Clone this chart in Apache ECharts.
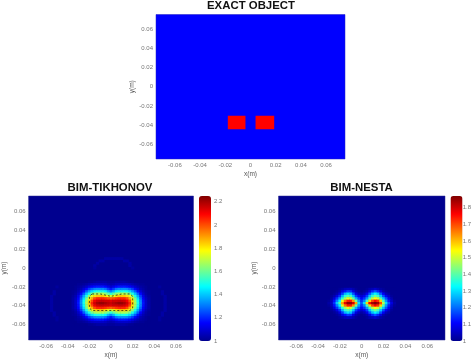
<!DOCTYPE html>
<html><head><meta charset="utf-8">
<style>html,body{margin:0;padding:0;background:#fff}#c{width:474px;height:360px;filter:blur(0.5px)}</style>
<script src="https://cdn.jsdelivr.net/npm/echarts@6/dist/echarts.min.js"></script>
</head><body><div id="c"></div>
<script>
const tickLabels = [-0.06,-0.04,-0.02,0,0.02,0.04,0.06];
const titles = ['EXACT OBJECT','BIM-TIKHONOV','BIM-NESTA'];
const jet = ['#00008f','#0000ff','#0080ff','#00ffff','#80ff80','#ffff00','#ff8000','#ff0000','#800000'];

// exact object: scatterer rectangles [x0,x1,y0,y1] in metres
const objectRects = [[-0.018,-0.004,-0.044,-0.03],[0.004,0.0188,-0.044,-0.03]];

// BIM-TIKHONOV: x -0.035..0.035, y -0.015..-0.06 in 0.0025 steps
const tikhX0 = -0.035, tikhY0 = -0.015;
const tikhRows = [
[1,1,1,1,1,1,1.01,1.01,1.02,1.03,1.03,1.03,1.03,1.02,1.02,1.02,1.03,1.03,1.03,1.03,1.02,1.01,1.01,1,1,1,1,1,1],
[1,1,1.01,1.01,1.02,1.03,1.05,1.07,1.08,1.08,1.08,1.08,1.07,1.05,1.04,1.05,1.07,1.08,1.08,1.08,1.08,1.07,1.05,1.03,1.02,1.01,1.01,1,1],
[1,1.01,1.02,1.03,1.05,1.08,1.12,1.15,1.17,1.18,1.18,1.18,1.16,1.12,1.09,1.12,1.16,1.18,1.18,1.18,1.17,1.15,1.12,1.08,1.05,1.03,1.02,1.01,1],
[1,1.01,1.03,1.05,1.1,1.16,1.23,1.28,1.32,1.33,1.33,1.33,1.3,1.23,1.18,1.23,1.3,1.33,1.33,1.33,1.32,1.28,1.23,1.16,1.1,1.05,1.03,1.01,1],
[1.01,1.02,1.05,1.1,1.17,1.27,1.36,1.43,1.48,1.5,1.5,1.5,1.46,1.38,1.32,1.38,1.46,1.5,1.5,1.5,1.48,1.43,1.36,1.27,1.17,1.1,1.05,1.02,1.01],
[1.01,1.03,1.08,1.16,1.27,1.39,1.5,1.6,1.66,1.68,1.68,1.68,1.64,1.58,1.52,1.58,1.64,1.68,1.68,1.68,1.66,1.6,1.5,1.39,1.27,1.16,1.08,1.03,1.01],
[1.02,1.05,1.12,1.23,1.36,1.5,1.64,1.75,1.82,1.85,1.85,1.85,1.82,1.76,1.72,1.76,1.82,1.85,1.85,1.85,1.82,1.75,1.64,1.5,1.36,1.23,1.12,1.05,1.02],
[1.03,1.07,1.15,1.28,1.43,1.6,1.75,1.88,2,2.05,2.05,2.05,2.03,2,1.98,2,2.03,2.05,2.05,2.05,2,1.88,1.75,1.6,1.43,1.28,1.15,1.07,1.03],
[1.03,1.08,1.17,1.32,1.48,1.66,1.82,2,2.11,2.15,2.16,2.16,2.15,2.15,2.13,2.15,2.15,2.16,2.16,2.15,2.11,2,1.82,1.66,1.48,1.32,1.17,1.08,1.03],
[1.03,1.08,1.18,1.33,1.5,1.68,1.85,2.05,2.15,2.2,2.22,2.22,2.2,2.18,2.16,2.18,2.2,2.22,2.22,2.2,2.15,2.05,1.85,1.68,1.5,1.33,1.18,1.08,1.03],
[1.03,1.08,1.17,1.32,1.48,1.66,1.82,2,2.11,2.15,2.16,2.16,2.15,2.15,2.13,2.15,2.15,2.16,2.16,2.15,2.11,2,1.82,1.66,1.48,1.32,1.17,1.08,1.03],
[1.03,1.07,1.15,1.28,1.43,1.6,1.75,1.88,2,2.05,2.05,2.05,2.03,2,1.98,2,2.03,2.05,2.05,2.05,2,1.88,1.75,1.6,1.43,1.28,1.15,1.07,1.03],
[1.02,1.05,1.12,1.23,1.36,1.5,1.64,1.75,1.82,1.85,1.85,1.85,1.82,1.76,1.72,1.76,1.82,1.85,1.85,1.85,1.82,1.75,1.64,1.5,1.36,1.23,1.12,1.05,1.02],
[1.01,1.03,1.08,1.16,1.27,1.39,1.5,1.6,1.66,1.68,1.68,1.68,1.64,1.58,1.52,1.58,1.64,1.68,1.68,1.68,1.66,1.6,1.5,1.39,1.27,1.16,1.08,1.03,1.01],
[1.01,1.02,1.05,1.1,1.17,1.27,1.36,1.43,1.48,1.5,1.5,1.5,1.46,1.38,1.32,1.38,1.46,1.5,1.5,1.5,1.48,1.43,1.36,1.27,1.17,1.1,1.05,1.02,1.01],
[1,1.01,1.03,1.05,1.1,1.16,1.23,1.28,1.32,1.33,1.33,1.33,1.3,1.23,1.18,1.23,1.3,1.33,1.33,1.33,1.32,1.28,1.23,1.16,1.1,1.05,1.03,1.01,1],
[1,1.01,1.02,1.03,1.05,1.08,1.12,1.15,1.17,1.18,1.18,1.18,1.16,1.12,1.09,1.12,1.16,1.18,1.18,1.18,1.17,1.15,1.12,1.08,1.05,1.03,1.02,1.01,1],
[1,1,1.01,1.01,1.02,1.03,1.05,1.07,1.08,1.08,1.08,1.08,1.07,1.05,1.04,1.05,1.07,1.08,1.08,1.08,1.08,1.07,1.05,1.03,1.02,1.01,1.01,1,1],
[1,1,1,1,1,1,1.01,1.01,1.02,1.03,1.03,1.03,1.03,1.02,1.02,1.02,1.03,1.03,1.03,1.03,1.02,1.01,1.01,1,1,1,1,1,1]
];
// faint side lobes on the Tikhonov map, [x, y, value]
const tikhFaint = [
[-0.005,0.01,1.03],[-0.0025,0.01,1.03],[0,0.01,1.03],[0.0025,0.01,1.03],[0.005,0.01,1.03],[0.0075,0.01,1.03],[0.01,0.01,1.03],
[-0.01,0.0075,1.03],[-0.0075,0.0075,1.03],[0.0125,0.0075,1.03],[0.015,0.0075,1.03],
[-0.0125,0.005,1.03],[0.0175,0.005,1.03],[-0.015,0.0025,1.03],[0.0175,0.0025,1.03],[-0.015,0,1.02],[0.02,0,1.02],
[-0.05,-0.02,1.02],[-0.0525,-0.025,1.03],[-0.0525,-0.0275,1.03],[-0.055,-0.03,1.03],[-0.055,-0.0325,1.03],[-0.055,-0.035,1.03],[-0.055,-0.0375,1.03],[-0.055,-0.04,1.03],[-0.055,-0.0425,1.03],[-0.055,-0.045,1.03],[-0.0525,-0.0475,1.03],[-0.0525,-0.05,1.03],[-0.05,-0.0525,1.02],[-0.05,-0.055,1.02],
[0.045,-0.02,1.02],[0.0475,-0.025,1.03],[0.0475,-0.0275,1.03],[0.05,-0.03,1.03],[0.05,-0.0325,1.03],[0.05,-0.035,1.03],[0.05,-0.0375,1.03],[0.05,-0.04,1.03],[0.05,-0.0425,1.03],[0.05,-0.045,1.03],[0.0475,-0.0475,1.03],[0.0475,-0.05,1.03],[0.045,-0.0525,1.02],[0.045,-0.055,1.02]
];
// dashed contour on the Tikhonov map, [x, y] in metres
const tikhContour = [[-0.0175,-0.0275],[-0.01,-0.0275],[0,-0.03],[0.01,-0.0275],[0.0175,-0.0275],[0.02,-0.03],[0.02,-0.0425],[0.0175,-0.045],[0.01,-0.045],[0,-0.045],[-0.01,-0.045],[-0.0175,-0.045],[-0.02,-0.0425],[-0.02,-0.03],[-0.0175,-0.0275]];

// BIM-NESTA: x -0.03..0.03, y -0.0225..-0.0525 in 0.0025 steps
const nestaX0 = -0.03, nestaY0 = -0.0225;
const nestaRows = [
[1,1,1,1,1.01,1.02,1.04,1.05,1.05,1.03,1.01,1,1,1,1.01,1.03,1.04,1.06,1.04,1.02,1.01,1,1,1,1],
[1,1,1,1.01,1.03,1.08,1.12,1.16,1.15,1.08,1.03,1.01,1,1.01,1.03,1.08,1.14,1.18,1.14,1.08,1.03,1.01,1,1,1],
[1,1,1.01,1.03,1.08,1.16,1.26,1.3,1.28,1.18,1.08,1.04,1.02,1.04,1.09,1.18,1.27,1.32,1.28,1.18,1.1,1.04,1.02,1,1],
[1,1.01,1.03,1.08,1.15,1.26,1.36,1.4,1.38,1.28,1.16,1.1,1.06,1.09,1.16,1.28,1.37,1.42,1.38,1.28,1.18,1.1,1.05,1.01,1],
[1,1.02,1.07,1.15,1.24,1.36,1.46,1.52,1.5,1.4,1.26,1.17,1.11,1.15,1.24,1.38,1.48,1.54,1.5,1.4,1.28,1.18,1.09,1.03,1],
[1.01,1.04,1.12,1.22,1.32,1.52,1.66,1.74,1.74,1.64,1.42,1.24,1.15,1.22,1.38,1.58,1.7,1.76,1.72,1.58,1.4,1.24,1.13,1.05,1.01],
[1.02,1.05,1.15,1.28,1.4,1.62,1.78,1.86,1.86,1.8,1.62,1.3,1.18,1.3,1.58,1.76,1.84,1.87,1.84,1.7,1.48,1.3,1.18,1.08,1.02],
[1.01,1.04,1.12,1.22,1.32,1.52,1.66,1.74,1.74,1.64,1.42,1.24,1.15,1.22,1.38,1.58,1.7,1.76,1.72,1.58,1.4,1.24,1.13,1.05,1.01],
[1,1.02,1.07,1.15,1.24,1.36,1.46,1.52,1.5,1.4,1.26,1.17,1.11,1.15,1.24,1.38,1.48,1.54,1.5,1.4,1.28,1.18,1.09,1.03,1],
[1,1.01,1.03,1.08,1.15,1.26,1.36,1.4,1.38,1.28,1.16,1.1,1.06,1.09,1.16,1.28,1.37,1.42,1.38,1.28,1.18,1.1,1.05,1.01,1],
[1,1,1.01,1.03,1.08,1.16,1.26,1.3,1.28,1.18,1.08,1.04,1.02,1.04,1.09,1.18,1.27,1.32,1.28,1.18,1.1,1.04,1.02,1,1],
[1,1,1,1.01,1.03,1.08,1.12,1.16,1.15,1.08,1.03,1.01,1,1.01,1.03,1.08,1.14,1.18,1.14,1.08,1.03,1.01,1,1,1],
[1,1,1,1,1.01,1.02,1.04,1.05,1.05,1.03,1.01,1,1,1,1.01,1.03,1.04,1.06,1.04,1.02,1.01,1,1,1,1]
];

const tikhRange = [1, 2.25], nestaRange = [1, 1.87];

const key = v => String(Number(v.toFixed(4)));
const cats = []; for (let i = 0; i <= 60; i++) cats.push(key(-0.075 + i * 0.0025));
const toCells = (rows, x0, y0) => {
  const out = [];
  rows.forEach((r, j) => r.forEach((v, i) => out.push([key(x0 + i * 0.0025), key(y0 - j * 0.0025), v])));
  return out;
};
const showTick = (i, name) => tickLabels.includes(Number(name));
const lab = {fontSize: 6, color: '#777', fontFamily: 'Liberation Sans', margin: 3};
const nm = {fontSize: 6.5, color: '#555', fontFamily: 'Liberation Sans'};
const catAxis = (g, name, gap) => ({
  type: 'category', gridIndex: g, data: cats, name, nameLocation: 'middle', nameGap: gap, nameTextStyle: nm,
  axisLine: {show: false}, axisTick: {show: false}, splitLine: {show: false},
  axisLabel: Object.assign({interval: showTick, hideOverlap: false}, lab)
});
const valAxisTop = (name, gap) => ({
  type: 'value', gridIndex: 0, min: -0.075, max: 0.075, name, nameLocation: 'middle', nameGap: gap, nameTextStyle: nm,
  axisLine: {show: false}, axisTick: {show: false}, splitLine: {show: false},
  axisLabel: Object.assign({customValues: tickLabels}, lab)
});
const barAxis = (g, r, iv) => ({
  type: 'value', gridIndex: g, position: 'right', min: r[0], max: r[1], interval: iv,
  axisLine: {show: false}, axisTick: {show: false}, splitLine: {show: false},
  axisLabel: Object.assign({}, lab, {showMaxLabel: false, margin: 3})
});
const hiddenX = g => ({type: 'value', gridIndex: g, min: 0, max: 1, show: false});

const chart = echarts.init(document.getElementById('c'));
chart.setOption({
  animation: false,
  backgroundColor: '#fff',
  title: [[251, 0.5], [110, 182], [361.5, 182]].map((p, i) => ({
    text: titles[i], left: p[0], top: p[1], textAlign: 'center', padding: 0,
    textStyle: {fontSize: 11.4, fontWeight: 'bold', color: '#111', fontFamily: 'Liberation Sans'}
  })),
  grid: [
    {left: 156, top: 14.5, width: 189, height: 144.5, show: true, backgroundColor: '#0000ff', borderColor: '#2020c0', borderWidth: 0.5},
    {left: 26, top: 196, width: 167.5, height: 145, show: true, backgroundColor: '#00008f', borderColor: '#2a2a90', borderWidth: 0.5},
    {left: 278.5, top: 196, width: 166.5, height: 145, show: true, backgroundColor: '#00008f', borderColor: '#2a2a90', borderWidth: 0.5},
    {left: 199, top: 196, width: 12, height: 145},
    {left: 450.5, top: 196, width: 12, height: 145}
  ],
  xAxis: [valAxisTop('x(m)', 12), catAxis(1, 'x(m)', 12), catAxis(2, 'x(m)', 12), hiddenX(3), hiddenX(4)],
  yAxis: [valAxisTop('y(m)', 13), catAxis(1, 'y(m)', 12), catAxis(2, 'y(m)', 11), barAxis(3, tikhRange, 0.2), barAxis(4, nestaRange, 0.1)],
  visualMap: [
    {type: 'continuous', seriesIndex: 1, min: tikhRange[0], max: tikhRange[1], calculable: false, left: 199, top: 196, itemWidth: 12, itemHeight: 145, padding: 0, text: null, showLabel: false, inRange: {color: jet}},
    {type: 'continuous', seriesIndex: 3, min: nestaRange[0], max: nestaRange[1], calculable: false, left: 450.5, top: 196, itemWidth: 12, itemHeight: 145, padding: 0, text: null, showLabel: false, inRange: {color: jet}}
  ],
  series: [
    {type: 'custom', xAxisIndex: 0, yAxisIndex: 0, data: objectRects, clip: true,
     renderItem: (p, api) => {
       const a = api.coord([api.value(0), api.value(3)]), b = api.coord([api.value(1), api.value(2)]);
       return {type: 'rect', shape: {x: a[0], y: a[1], width: b[0] - a[0], height: b[1] - a[1]}, style: {fill: '#ff0000'}};
     }},
    {type: 'heatmap', xAxisIndex: 1, yAxisIndex: 1, data: toCells(tikhRows, tikhX0, tikhY0).concat(tikhFaint.map(p => [key(p[0]), key(p[1]), p[2]])), emphasis: {disabled: true}, progressive: 0},
    {type: 'line', xAxisIndex: 1, yAxisIndex: 1, data: tikhContour.map(p => [key(p[0]), key(p[1])]), showSymbol: false, symbol: 'none', lineStyle: {color: '#2a2a10', width: 0.8, type: [2, 2]}, z: 5},
    {type: 'heatmap', xAxisIndex: 2, yAxisIndex: 2, data: toCells(nestaRows, nestaX0, nestaY0), emphasis: {disabled: true}, progressive: 0},
    {type: 'line', xAxisIndex: 3, yAxisIndex: 3, data: [], showSymbol: false},
    {type: 'line', xAxisIndex: 4, yAxisIndex: 4, data: [], showSymbol: false}
  ]
});
</script></body></html>
